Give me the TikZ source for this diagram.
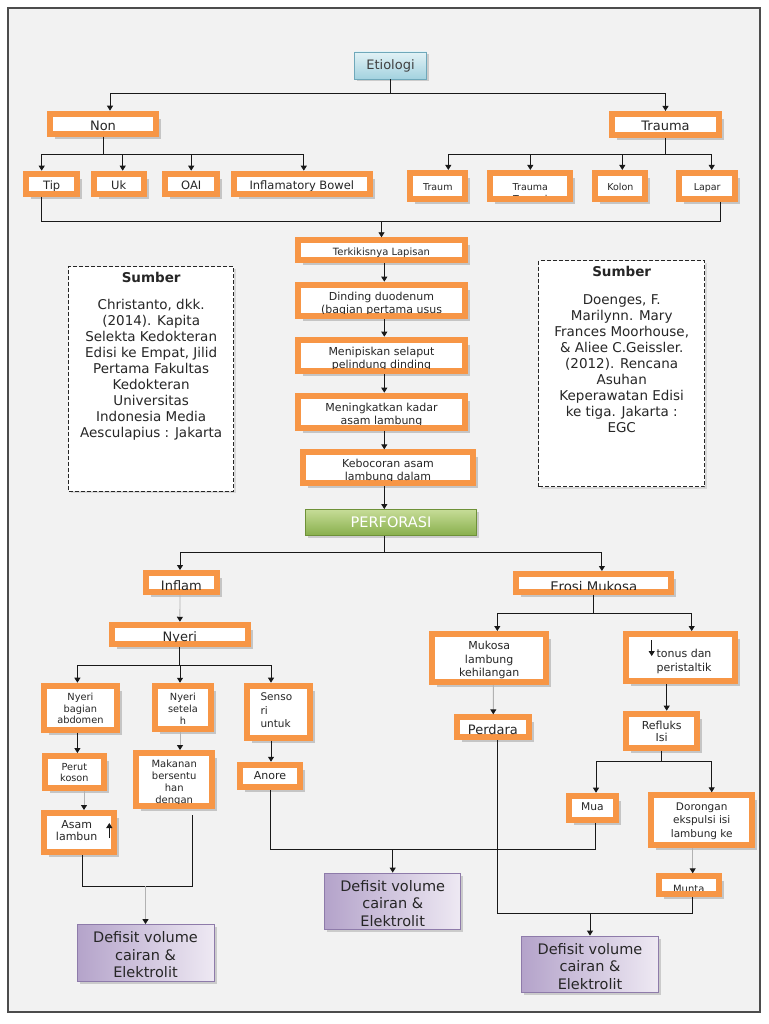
\documentclass[tikz,border=0pt]{standalone}
\usepackage{fontspec}
\setmainfont{DejaVu Sans}
\usetikzlibrary{arrows.meta,shadows}
\definecolor{orgB}{HTML}{F79646}
\definecolor{bgG}{HTML}{F2F2F2}
\definecolor{txtC}{HTML}{262626}
\definecolor{etiT}{HTML}{E2F2F6}
\definecolor{etiB}{HTML}{A3D2DF}
\definecolor{etiD}{HTML}{6FA8BA}
\definecolor{perT}{HTML}{C6DC97}
\definecolor{perB}{HTML}{88AF4C}
\definecolor{perD}{HTML}{6E9138}
\definecolor{purL}{HTML}{B4A3CA}
\definecolor{purR}{HTML}{EEE9F3}
\definecolor{purD}{HTML}{8E7BAA}
\newcommand\fsz[2]{\fontsize{#1}{#2}\selectfont}
\tikzset{
  obox/.style={draw=orgB, line width=6pt, fill=white,
    drop shadow={shadow xshift=5pt, shadow yshift=-5pt, fill=black!40}},
  dbox/.style={draw=purD, line width=0.8pt, left color=purL, right color=purR,
    drop shadow={shadow xshift=2.5pt, shadow yshift=-2.5pt, fill=black!35}},
  srcbox/.style={draw=black!85, line width=1.1pt, dash pattern=on 4pt off 2pt, fill=white,
    drop shadow={shadow xshift=2pt, shadow yshift=-2pt, fill=black!25}},
  etibox/.style={draw=etiD, line width=0.8pt, top color=etiT, bottom color=etiB, text=black!75,
    drop shadow={shadow xshift=2pt, shadow yshift=-2pt, fill=black!35}},
  perbox/.style={draw=perD, line width=0.8pt, top color=perT, bottom color=perB, text=white,
    drop shadow={shadow xshift=2pt, shadow yshift=-2pt, fill=black!35}},
  boxtxt/.style={inner sep=0pt, anchor=north, align=center, yshift=-10pt, text=txtC,
    font=\fsz{10}{12}}
}
% clipped box: inset, text opts, style, name, position, width, height, text
\newcommand\boxcl[8]{%
  \node[#3, minimum width=#6pt, minimum height=#7pt] (#4) at (#5) {};
  \begin{scope}
    \clip ([shift={(#1,#1)}]#4.south west) rectangle ([shift={(-#1,-#1)}]#4.north east);
    \node[boxtxt,#2] (#4t) at (#4.north) {#8};
  \end{scope}}
\newcommand\orbox[6][]{\boxcl{6pt}{#1}{obox}{#2}{#3}{#4}{#5}{#6}}
\newcommand\dfbox[6][]{\boxcl{0.8pt}{yshift=2.5pt,font=\fsz{14.5}{17.5},#1}{dbox}{#2}{#3}{#4}{#5}{#6}}

\begin{document}
\begin{tikzpicture}[x=1pt,y=-1pt,
    ln/.style={draw=black!90, line width=0.9pt},
    arr/.style={ln, -{Triangle[length=5pt,width=6pt]}},
    garr/.style={draw=black!30, line width=0.9pt, -{Triangle[length=5pt,width=6pt,color=black!90]}}]
  %%%%% PAGE %%%%%
  \useasboundingbox (0,0) rectangle (768,1024);
  \fill[white] (0,0) rectangle (768,1024);
  \draw[fill=bgG, draw=black!70, line width=1.2pt] (8,8) rectangle (760,1012);

  %%%%% ETIOLOGI %%%%%
  \node[etibox, minimum width=72pt, minimum height=27pt, font=\fsz{13}{15}] (etio) at (390.5,65.5) {Etiologi};
  \orbox[font=\fsz{13}{15}]{non}{103,123.7}{106.6}{20}{Non}
  \orbox[font=\fsz{13}{15}]{trauma}{665.5,124.3}{106.4}{20.7}{Trauma}

  \orbox[font=\fsz{11.5}{14}]{tip}{51.7,183.7}{50.7}{20}{Tip}
  \orbox[font=\fsz{11.5}{14}]{uk}{118.7,183.7}{50}{20}{Uk}
  \orbox[font=\fsz{11.5}{14}]{oai}{191.2,183.7}{51.7}{20}{OAI}
  \orbox[font=\fsz{11.5}{14}]{ibd}{301.8,183.7}{135.7}{20}{Inflamatory Bowel}
  \orbox[font=\fsz{9.5}{12},yshift=-3pt]{traum}{437.8,185.8}{55}{25.7}{Traum\\a}
  \orbox[font=\fsz{9.5}{12},yshift=-3pt]{tumpul}{530.3,185.8}{80}{25.7}{Trauma\\Tumpul}
  \orbox[font=\fsz{9.5}{12},yshift=-3pt]{kolon}{620.3,185.8}{50}{25.7}{Kolon}
  \orbox[font=\fsz{9.5}{12},yshift=-3pt]{lapar}{707.2,185.8}{56.3}{25.7}{Lapar}

  \draw[ln] (etio.south) -- ++(0,14) coordinate (bEti);
  \draw[arr] (bEti) -| ([xshift=7pt]non.north);
  \draw[arr] (bEti) -| (trauma.north);
  \draw[ln] (non.south) -- ++(0,17.6) coordinate (bNon);
  \draw[arr] (bNon) -| ([xshift=-10pt]tip.north);
  \draw[arr] (bNon) -| ([xshift=4pt]uk.north);
  \draw[arr] (bNon) -| (oai.north);
  \draw[arr] (bNon) -| ([xshift=2pt]ibd.north);
  \draw[ln] (trauma.south) -- ++(0,16.7) coordinate (bTra);
  \draw[arr] (bTra) -| ([xshift=10.5pt]traum.north);
  \draw[arr] (bTra) -| (tumpul.north);
  \draw[arr] (bTra) -| ([xshift=2pt]kolon.north);
  \draw[arr] (bTra) -| ([xshift=4.5pt]lapar.north);

  %%%%% CHAIN %%%%%
  \orbox{terk}{381.5,250.3}{167}{20}{Terkikisnya Lapisan}
  \orbox[font=\fsz{11}{13}]{dind}{381.5,300.5}{167}{31.6}{Dinding duodenum\\(bagian pertama usus}
  \orbox[font=\fsz{11}{13}]{menip}{381.5,355.5}{167}{31.6}{Menipiskan selaput\\pelindung dinding}
  \orbox[font=\fsz{11}{13}]{menin}{381.5,411.7}{167}{32}{Meningkatkan kadar\\asam lambung}
  \orbox[font=\fsz{11}{13}]{kebo}{388,467.7}{170}{30.7}{Kebocoran asam\\lambung dalam}
  \node[perbox, minimum width=171pt, minimum height=26pt, font=\fsz{14.5}{17}] (perf) at (391,522.5) {PERFORASI};

  \draw[ln] ([xshift=-10pt]tip.south) -- ++(0,25) coordinate (bEt) -| ([xshift=12.8pt]lapar.south);
  \draw[arr] (bEt -| terk.north) -- (terk.north);
  \foreach \a/\b in {terk/dind,dind/menip,menip/menin}
    \draw[arr] ([xshift=2.8pt]\a.south) -- ([xshift=2.8pt]\b.north);
  \draw[arr] ([xshift=2.8pt]menin.south) -- ([xshift=-3.7pt]kebo.north);
  \draw[arr] ([xshift=-3.7pt]kebo.south) -- ([xshift=-6.7pt]perf.north);

  %%%%% SUMBER %%%%%
  \boxcl{1.1pt}{font=\fsz{13.5}{16},yshift=4pt}{srcbox}{srcL}{151.2,378.9}{164.7}{224.7}{\textbf{Sumber}\\[11pt]Christanto, dkk.\\(2014). Kapita\\Selekta Kedokteran\\Edisi ke Empat, Jilid\\Pertama Fakultas\\Kedokteran\\Universitas\\Indonesia Media\\Aesculapius : Jakarta}
  \boxcl{1.1pt}{font=\fsz{13.5}{16},yshift=4pt}{srcbox}{srcR}{621.7,373.7}{165.7}{226.3}{\textbf{Sumber}\\[11.6pt]Doenges, F.\\Marilynn. Mary\\Frances Moorhouse,\\\& Aliee C.Geissler.\\(2012). Rencana\\Asuhan\\Keperawatan Edisi\\ke tiga. Jakarta :\\EGC}

  %%%%% LEFT BRANCH %%%%%
  \orbox[font=\fsz{13}{15}]{inflam}{181.4,582.5}{71.3}{19}{Inflam}
  \orbox[font=\fsz{13}{15}]{nyeri}{179.9,634.4}{135.7}{19.3}{Nyeri}
  \orbox[font=\fsz{9.8}{11.8}]{nba}{80.4,707.7}{73.3}{44}{Nyeri\\bagian\\abdomen}
  \orbox[font=\fsz{9.8}{11.8}]{nset}{182.9,707.4}{56.3}{43.3}{Nyeri\\setela\\h}
  \orbox[font=\fsz{10.5}{13.3},align=left,xshift=-2pt]{senso}{278.4,711.7}{62.7}{52}{Senso\\ri\\untuk}
  \orbox[font=\fsz{9.7}{11.5}]{perut}{74.4,771.9}{59.3}{31.7}{Perut\\koson}
  \orbox[font=\fsz{11}{12.7},xshift=-2pt]{asam}{78.7,832.5}{70}{39}{Asam\\lambun}
  \orbox{mak}{174.2,779.7}{75.7}{53.3}{Makanan\\bersentu\\han\\dengan}
  \orbox[font=\fsz{11}{13}]{anore}{270,775.9}{60.6}{22.3}{Anore}
  \draw[arr] ([xshift=30.6pt,yshift=-28pt]asam.north) -- ++(0,-15);

  \draw[ln] ([xshift=-6.7pt]perf.south) -- ++(0,17) coordinate (bPer);
  \draw[arr] (bPer) -| ([xshift=-1.4pt]inflam.north);
  \draw[garr] ([xshift=-1.4pt]inflam.south) -- (nyeri.north);
  \draw[ln] (nyeri.south) -- ++(0,18.7) coordinate (bNy);
  \draw[arr] (bNy) -| ([xshift=-3pt]nba.north);
  \draw[arr] (bNy) -| ([xshift=-2.9pt]nset.north);
  \draw[arr] (bNy) -| ([xshift=-7.4pt]senso.north);
  \draw[arr] ([xshift=-3pt]nba.south) -- ([xshift=3pt]perut.north);
  \draw[garr] ([xshift=9.6pt]perut.south) -- ([xshift=5.3pt]asam.north);
  \draw[garr] ([xshift=-2.9pt]nset.south) -- ([xshift=5.8pt]mak.north);
  \draw[arr] ([xshift=-7.4pt]senso.south) -- ([xshift=1pt]anore.north);

  %%%%% RIGHT BRANCH %%%%%
  \orbox[font=\fsz{13.3}{15}]{erosi}{593.7,583}{154.7}{18}{Erosi Mukosa}
  \orbox[font=\fsz{11}{13.5}]{mukosa}{489.2,658}{113.7}{48}{Mukosa\\lambung\\kehilangan}
  \orbox[font=\fsz{11}{14},yshift=-8pt,xshift=3.5pt]{tonus}{680.5,657.7}{109.6}{47.3}{tonus dan\\peristaltik}
  \orbox[font=\fsz{13}{15}]{perdara}{492.9,727.2}{71.7}{19.7}{Perdara}
  \orbox[font=\fsz{11}{12.4}]{refluks}{661.7,730.7}{70.7}{34}{Refluks\\Isi}
  \orbox[font=\fsz{10.7}{13}]{mua}{592.5,807.7}{47.6}{24}{Mua}
  \orbox[font=\fsz{10.5}{13.5}]{dor}{701.7,820}{100.7}{49.4}{Dorongan\\ekspulsi isi\\lambung ke}
  \orbox[font=\fsz{10}{12},yshift=-2pt]{munta}{688.7,885}{60}{17.4}{Munta}
  \draw[arr] ([xshift=-28.8pt,yshift=-9pt]tonus.north) -- ++(0,16);

  \draw[arr] (bPer) -| ([xshift=8.2pt]erosi.north);
  \draw[ln] (erosi.south) -- ++(0,18.3) coordinate (bEr);
  \draw[arr] (bEr) -| ([xshift=8.1pt]mukosa.north);
  \draw[arr] (bEr) -| ([xshift=11.2pt]tonus.north);
  \draw[garr] ([xshift=4.1pt]mukosa.south) -- ([xshift=0.4pt]perdara.north);
  \draw[arr] ([xshift=-13.8pt]tonus.south) -- ([xshift=5pt]refluks.north);
  \draw[ln] (refluks.south) -- ++(0,11) coordinate (bRe);
  \draw[arr] (bRe) -| ([xshift=3.5pt]mua.north);
  \draw[arr] (bRe) -| ([xshift=10pt]dor.north);
  \draw[garr] ([xshift=-9pt]dor.south) -- ([xshift=4pt]munta.north);

  %%%%% DEFISIT %%%%%
  \dfbox{defL}{145.5,953}{137}{57}{Defisit volume\\cairan \&\\Elektrolit}
  \dfbox{defM}{392.7,901}{136}{56}{Defisit volume\\cairan \&\\Elektrolit}
  \dfbox{defR}{590,964}{137}{56}{Defisit volume\\cairan \&\\Elektrolit}

  \draw[ln] ([xshift=4pt]asam.south) -- ++(0,31) coordinate (bAs) -| ([xshift=18.5pt,yshift=-6pt]mak.south);
  \draw[garr] (bAs -| defL.north) -- (defL.north);
  \draw[ln] (anore.south) -- ++(0,59) coordinate (bAn) -| ([xshift=3.2pt]mua.south);
  \draw[arr] (bAn -| defM.north) -- (defM.north);
  \draw[ln] ([xshift=4.4pt]perdara.south) -- ++(0,173.3) coordinate (bPd) -| ([xshift=4pt]munta.south);
  \draw[arr] (bPd -| defR.north) -- (defR.north);
\end{tikzpicture}
\end{document}
